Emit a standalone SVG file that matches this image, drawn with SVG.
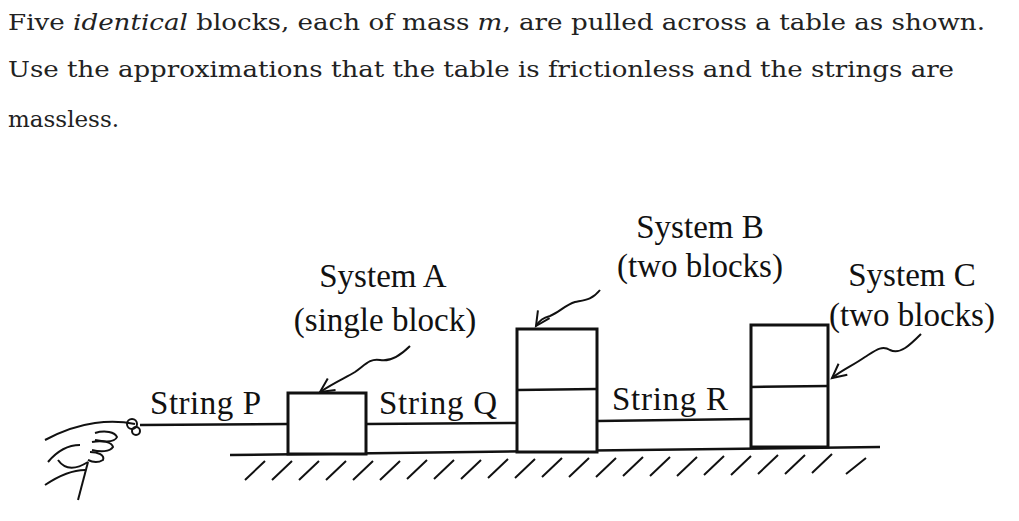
<svg xmlns="http://www.w3.org/2000/svg" width="1019" height="521" viewBox="0 0 1019 521">
<style>
.h{font-family:"DejaVu Serif","Liberation Serif",serif;font-size:23px;fill:#222}
.l{font-family:"Liberation Serif",serif;font-size:33px;fill:#111}
.b{fill:#fff;stroke:#111;stroke-width:3}
.s{stroke:#111;stroke-width:2.5;fill:none}
.t{stroke:#111;stroke-width:2;fill:none}
</style>
<defs><marker id="ah" markerWidth="16" markerHeight="16" refX="14" refY="7" orient="auto" markerUnits="userSpaceOnUse" overflow="visible"><path d="M0,0 L14,7 L0,14" fill="none" stroke="#111" stroke-width="2"/></marker></defs>
<rect width="1019" height="521" fill="#fff"/>
<text class="h" x="8" y="30" textLength="977" lengthAdjust="spacingAndGlyphs">Five <tspan font-style="italic">identical</tspan> blocks, each of mass <tspan font-style="italic">m</tspan>, are pulled across a table as shown.</text>
<text class="h" x="8" y="77" textLength="946" lengthAdjust="spacingAndGlyphs">Use the approximations that the table is frictionless and the strings are</text>
<text class="h" x="8" y="127">massless.</text>
<g id="table">
<path class="s" d="M230,455 L880,447" stroke-width="3.5"/>
<path class="t" d="M245,480 L265,461 M272,480 L292,461 M299,480 L319,461 M326,480 L346,461 M353,480 L373,461 M380,480 L400,461 M407,479 L427,460 M434,479 L454,460 M461,479 L481,460 M488,478 L508,459 M515,478 L535,459 M542,477 L562,458 M569,477 L589,458 M596,477 L616,458 M623,476 L643,457 M650,476 L670,457 M677,476 L697,457 M704,475 L724,456 M731,475 L751,456 M758,474 L778,455 M785,474 L805,455 M812,473 L832,454 M846,474 L866,458"/>
</g>
<g id="blockA"><rect class="b" x="288" y="393" width="78" height="61"/></g>
<g id="systemB"><rect class="b" x="517" y="329" width="80" height="123"/><path class="s" d="M517,390 L597,389"/></g>
<g id="systemC"><rect class="b" x="751" y="325" width="77" height="122"/><path class="s" d="M751,387 L828,386"/></g>
<g id="connectors">
<path class="s" d="M140,425 L288,424"/>
<path class="s" d="M366,424 L518,423"/>
<path class="s" d="M597,421 L750,419"/>
<path class="t" d="M410,346 C400,356 390,362 380,360 C370,358 365,365 355,372 C345,378 335,382 320,392" marker-end="url(#ah)"/>
<path class="t" d="M600,290 C592,300 585,300 575,302 C565,305 560,312 550,316 C543,318 540,320 536,326" marker-end="url(#ah)"/>
<path class="t" d="M921,334 C910,345 900,355 890,350 C882,345 876,350 865,357 C852,366 842,370 832,378" marker-end="url(#ah)"/>
</g>
<g id="hand" class="t">
<path d="M45,440 C60,432 80,425 95,423 C110,421 125,422 135,424"/>
<circle cx="132" cy="424" r="5"/><circle cx="136" cy="431" r="4"/>
<path d="M95,433 C105,430 115,432 117,437 C115,442 105,442 95,440"/>
<path d="M92,442 C102,440 112,442 113,447 C110,452 100,452 92,450"/>
<path d="M90,452 C98,452 105,455 103,460 C98,463 92,462 88,460"/>
<path d="M48,462 C58,450 68,445 80,445 M58,460 C65,470 75,470 88,462"/>
<path d="M45,485 C60,475 72,470 85,470"/>
<path d="M88,462 L78,500"/>
</g>
<g id="labels">
<text class="l" x="150" y="414" textLength="111">String P</text>
<text class="l" x="379" y="414" textLength="118">String Q</text>
<text class="l" x="612" y="410" textLength="116">String R</text>
<text class="l" x="383" y="287" text-anchor="middle">System A</text>
<text class="l" x="385" y="331" text-anchor="middle">(single block)</text>
<text class="l" x="700" y="238" text-anchor="middle">System B</text>
<text class="l" x="700" y="277" text-anchor="middle">(two blocks)</text>
<text class="l" x="912" y="286" text-anchor="middle">System C</text>
<text class="l" x="912" y="326" text-anchor="middle">(two blocks)</text>
</g>
</svg>
